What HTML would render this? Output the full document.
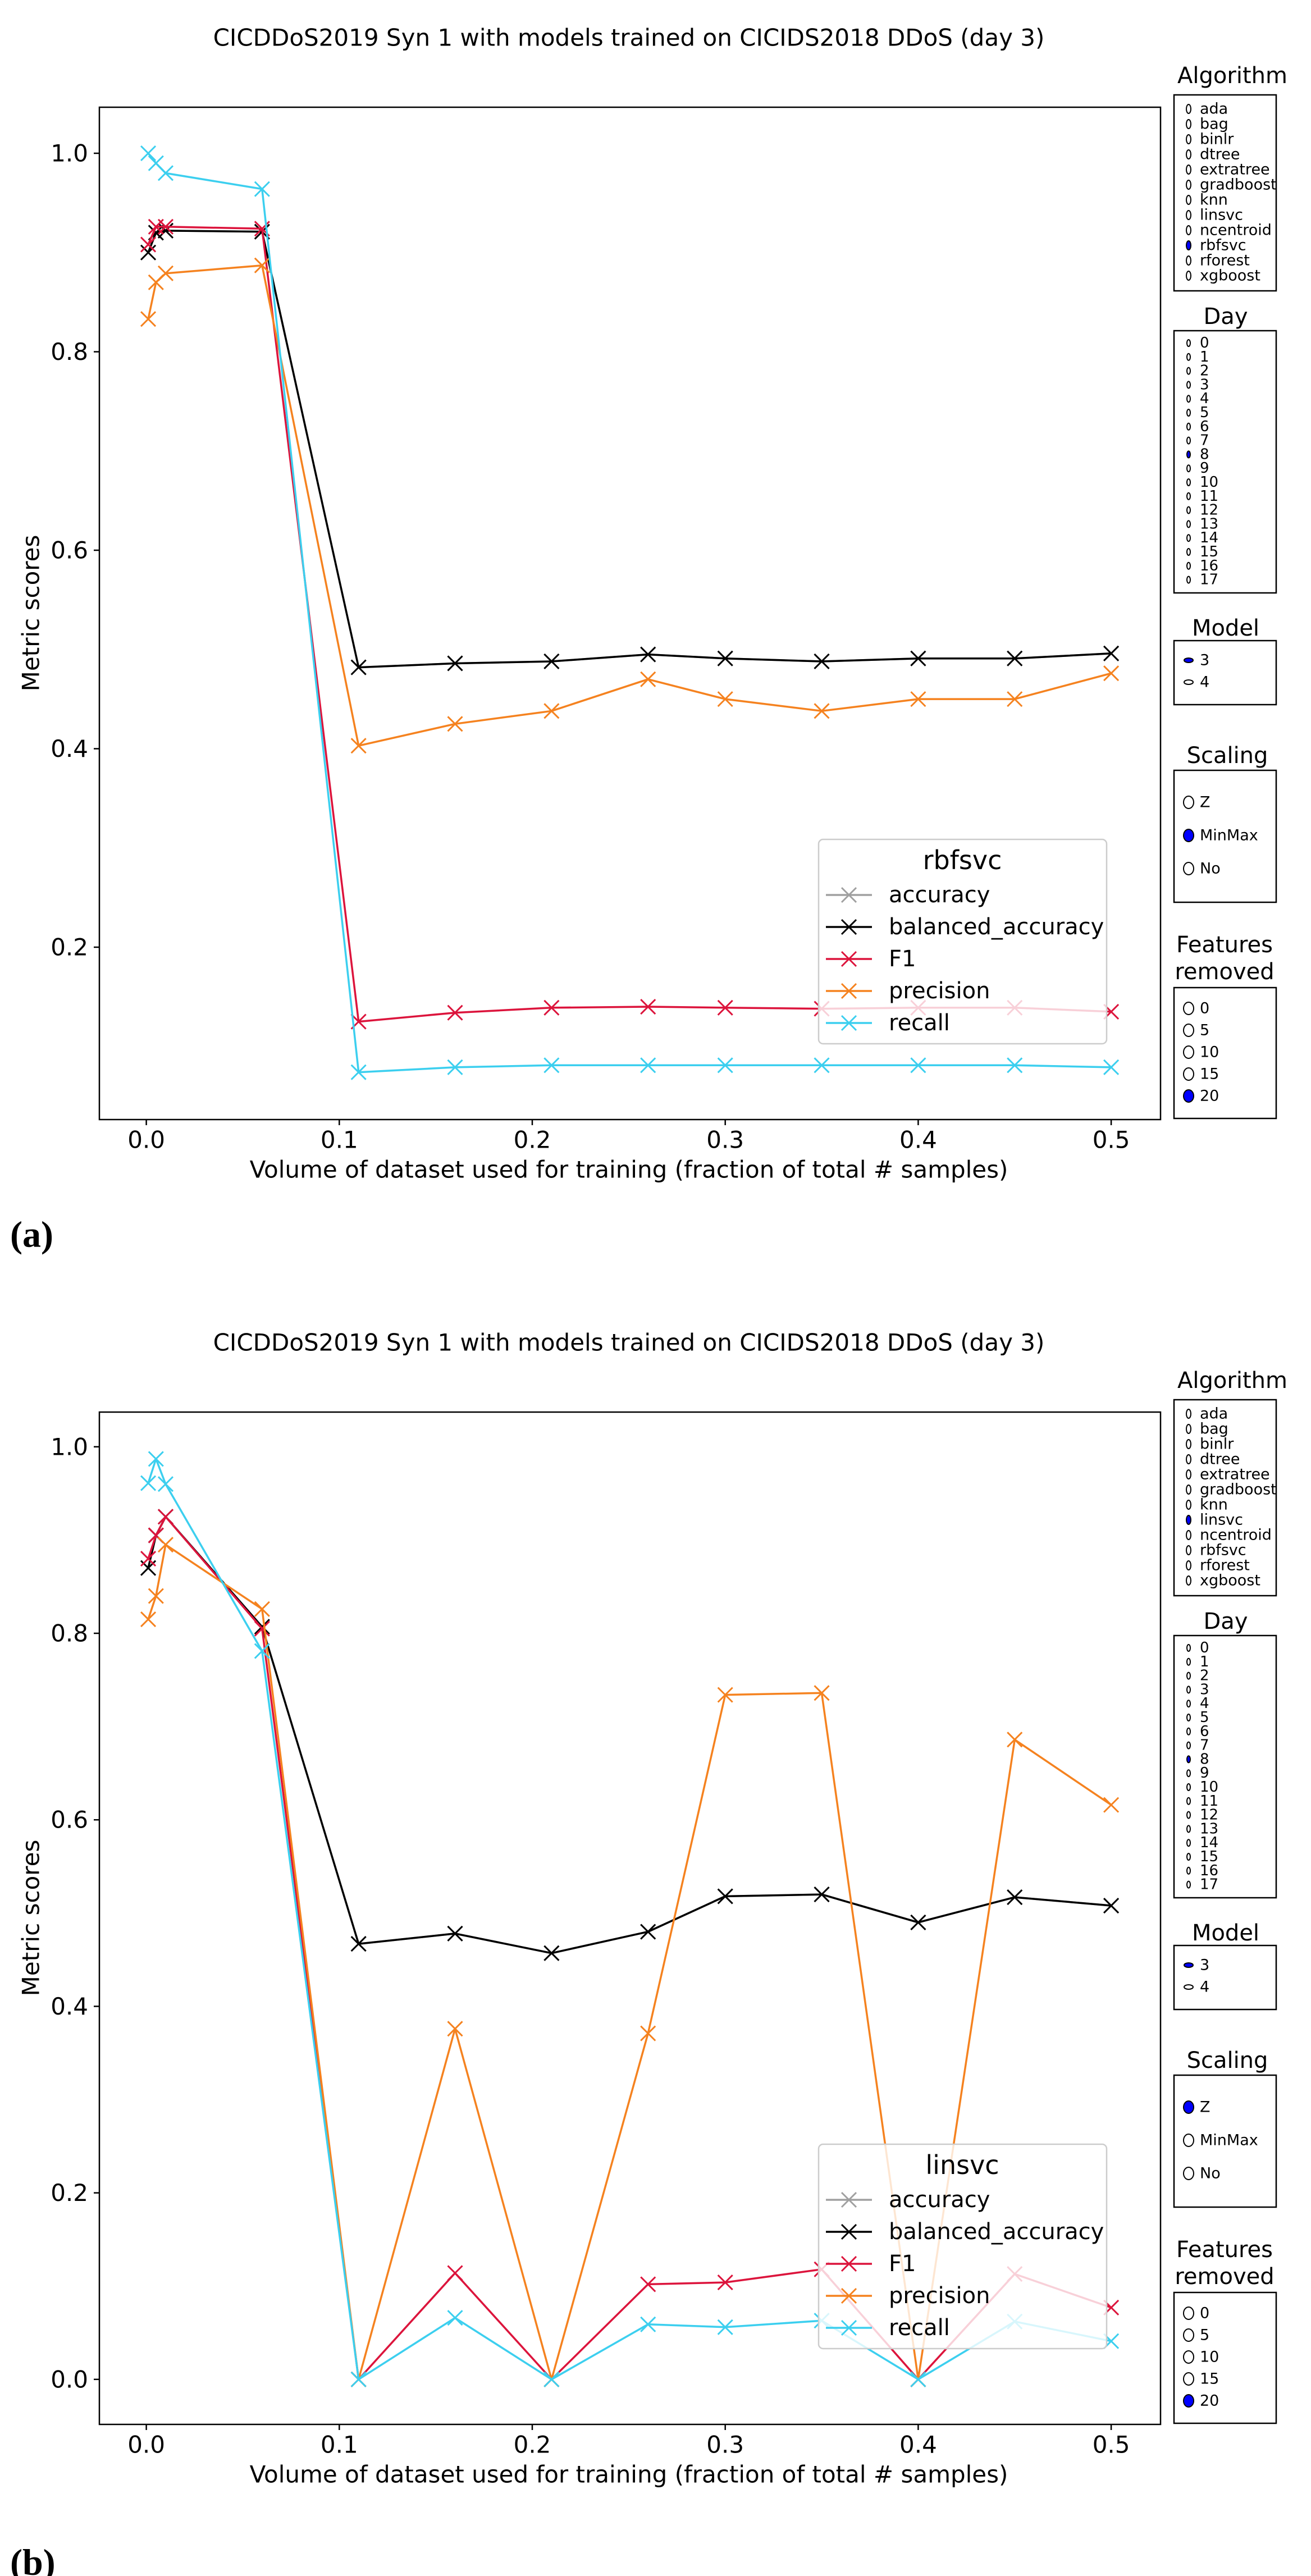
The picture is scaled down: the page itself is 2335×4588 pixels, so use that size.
<!DOCTYPE html>
<html><head><meta charset="utf-8"><style>
html,body{margin:0;padding:0;background:#fff}
svg{display:block;font-family:"DejaVu Sans","Liberation Sans",sans-serif}
</style></head><body>
<svg id="fig" width="2335" height="4588" viewBox="0 0 2335 4588" xmlns="http://www.w3.org/2000/svg"></svg>
<script>
const xVals = [0.001,0.005,0.01,0.06,0.11,0.16,0.21,0.26,0.30,0.35,0.40,0.45,0.50];
const seriesNames = ["accuracy","balanced_accuracy","F1","precision","recall"];
const seriesColors = ["#a0a0a0","#000000","#dc143c","#f5821f","#3ccfef"];
const xTicks = [0,0.1,0.2,0.3,0.4,0.5];
const xTickLabels = ["0.0","0.1","0.2","0.3","0.4","0.5"];
const yTicksA = [0.2,0.4,0.6,0.8,1.0];
const yTickLabelsA = ["0.2","0.4","0.6","0.8","1.0"];
const yTicksB = [0.0,0.2,0.4,0.6,0.8,1.0];
const yTickLabelsB = ["0.0","0.2","0.4","0.6","0.8","1.0"];
// chart (a) rbfsvc
const accA = [0.90,0.92,0.922,0.921,0.482,0.486,0.488,0.495,0.491,0.488,0.491,0.491,0.496];
const balA = [0.90,0.92,0.922,0.921,0.482,0.486,0.488,0.495,0.491,0.488,0.491,0.491,0.496];
const f1A = [0.908,0.926,0.926,0.924,0.125,0.134,0.139,0.140,0.139,0.138,0.139,0.139,0.135];
const precA = [0.833,0.870,0.879,0.887,0.403,0.425,0.438,0.470,0.450,0.438,0.450,0.450,0.476];
const recA = [1.0,0.99,0.98,0.964,0.074,0.079,0.081,0.081,0.081,0.081,0.081,0.081,0.079];
// chart (b) linsvc
const accB = [0.870,0.905,0.925,0.807,0.467,0.478,0.457,0.480,0.518,0.520,0.490,0.517,0.508];
const balB = [0.870,0.905,0.925,0.807,0.467,0.478,0.457,0.480,0.518,0.520,0.490,0.517,0.508];
const f1B = [0.880,0.905,0.925,0.805,0.0,0.114,0.0,0.102,0.104,0.118,0.0,0.113,0.077];
const precB = [0.815,0.840,0.895,0.826,0.0,0.376,0.0,0.371,0.734,0.736,0.0,0.686,0.616];
const recB = [0.961,0.987,0.960,0.781,0.0,0.066,0.0,0.059,0.056,0.063,0.0,0.062,0.041];
const algos = ["ada","bag","binlr","dtree","extratree","gradboost","knn","linsvc","ncentroid","rbfsvc","rforest","xgboost"];
const days = ["0","1","2","3","4","5","6","7","8","9","10","11","12","13","14","15","16","17"];
const models = ["3","4"];
const scalings = ["Z","MinMax","No"];
const feats = ["0","5","10","15","20"];

const NS = "http://www.w3.org/2000/svg";
const svg = document.getElementById("fig");
function mk(tag, attrs, parent, text){
  const e = document.createElementNS(NS, tag);
  for (const k in attrs) e.setAttribute(k, attrs[k]);
  if (text !== undefined) e.textContent = text;
  parent.appendChild(e);
  return e;
}
const L=177,R=2067,T=191,B=1994;
const xs = v => 260.6 + v*3437;

function drawChart(off, yTop, yPer, yTicks, yLabels, data, algoName, selAlgo, selScale, label, name){
  const g = mk("g",{transform:"translate(0,"+off+")"},svg);
  
  
  const ys = v => yTop + (1-v)*yPer;
  const t = mk("text",{x:1120,y:67,"text-anchor":"middle","dominant-baseline":"central","font-size":42},g,"CICDDoS2019 Syn 1 with models trained on CICIDS2018 DDoS (day 3)");
  
  
  const clip = "clip"+off;
  const cp = mk("clipPath",{id:clip},g); mk("rect",{x:L,y:T,width:R-L,height:B-T},cp);
  const sg = mk("g",{"clip-path":"url(#"+clip+")"},g);
  data.forEach((arr,si)=>{
    const col = seriesColors[si];
    const pts = arr.map((v,i)=>xs(xVals[i]).toFixed(1)+","+ys(v).toFixed(1)).join(" ");
    const pl = mk("polyline",{points:pts,fill:"none",stroke:col,"stroke-width":3.5,"stroke-linejoin":"round"},sg);
    
    
    arr.forEach((v,i)=>{
      const cx=xs(xVals[i]), cy=ys(v), s=13;
      const m = mk("path",{d:`M${cx-s},${cy-s}L${cx+s},${cy+s}M${cx-s},${cy+s}L${cx+s},${cy-s}`,stroke:col,"stroke-width":3,fill:"none"},sg);
      
      
    });
  });
  const fr = mk("rect",{x:L,y:T,width:R-L,height:B-T,fill:"none",stroke:"#000","stroke-width":2.5},g);
  
  
  xTicks.forEach((v,i)=>{
    mk("line",{x1:xs(v),x2:xs(v),y1:B,y2:B+10,stroke:"#000","stroke-width":2.5},g);
    const tl = mk("text",{x:xs(v),y:2030,"text-anchor":"middle","dominant-baseline":"central","font-size":42},g,xTickLabels[i]);
    
    
  });
  yTicks.forEach((v,i)=>{
    mk("line",{x1:L-10,x2:L,y1:ys(v),y2:ys(v),stroke:"#000","stroke-width":2.5},g);
    const tl = mk("text",{x:157,y:ys(v),"text-anchor":"end","dominant-baseline":"central","font-size":42},g,yLabels[i]);
    
    
  });
  const xl = mk("text",{x:1120,y:2083,"text-anchor":"middle","dominant-baseline":"central","font-size":42},g,"Volume of dataset used for training (fraction of total # samples)");
  
  
  const yl = mk("text",{x:55,y:1092,"text-anchor":"middle","dominant-baseline":"central","font-size":42,transform:"rotate(-90 55 1092)"},g,"Metric scores");
  
  
  const pl = mk("text",{x:18,y:label==="(a)"?2199:2240,"dominant-baseline":"central","font-size":66,"font-weight":"bold","font-family":"Liberation Serif, serif"},g,label);
  
  
  const lg = mk("g",{},g);
  
  
  mk("rect",{x:1458,y:1495,width:513,height:364,rx:8,fill:"rgba(255,255,255,0.8)",stroke:"#cccccc","stroke-width":2.5},lg);
  mk("text",{x:1714,y:1532,"text-anchor":"middle","dominant-baseline":"central","font-size":46},lg,algoName);
  const ly=[1594,1651,1708,1765,1822];
  seriesNames.forEach((n,i)=>{
    const e = mk("g",{},lg);
    
    
    mk("line",{x1:1471,x2:1553,y1:ly[i],y2:ly[i],stroke:seriesColors[i],"stroke-width":3.5},e);
    const s=13,cx=1512,cy=ly[i];
    mk("path",{d:`M${cx-s},${cy-s}L${cx+s},${cy+s}M${cx-s},${cy+s}L${cx+s},${cy-s}`,stroke:seriesColors[i],"stroke-width":3,fill:"none"},e);
    mk("text",{x:1583,y:ly[i],"dominant-baseline":"central","font-size":40},e,n);
  });
  function panel(title, titleYs, tx, box, items, y0, dy, sel, rw, rh, fs, pname){
    const pg = mk("g",{},g);
    
    
    title.forEach((tt,k)=>mk("text",{x:tx,y:titleYs[k],"text-anchor":"middle","dominant-baseline":"central","font-size":40},pg,tt));
    mk("rect",{x:2091,y:box[0],width:182,height:box[1]-box[0],fill:"#fff",stroke:"#000","stroke-width":2.5},pg);
    items.forEach((it,i)=>{
      const r = mk("g",{},pg);
      
      
      const y=y0+i*dy;
      mk("ellipse",{cx:2117,cy:y,rx:rw,ry:rh,fill:it===sel?"#0000ff":"#fff",stroke:"#000","stroke-width":2},r);
      mk("text",{x:2137,y:y,"dominant-baseline":"central","font-size":fs},r,it);
    });
  }
  panel(["Algorithm"],[135],2195,[169,518],algos,194,27,selAlgo,4,8,27,"algorithm-selector");
  panel(["Day"],[564],2183,[589,1056],days,611,24.8,"8",3,6,26,"day-selector");
  panel(["Model"],[1119],2183,[1141,1255],models,1176,39,"3",8,4,27,"model-selector");
  panel(["Scaling"],[1346],2186,[1372,1607],scalings,1429,59,selScale,9,11,27,"scaling-selector");
  panel(["Features","removed"],[1683,1731],2181,[1759,1992],feats,1796,39,"20",9,11,27,"features-selector");
}
drawChart(0,273,1767.5,yTicksA,yTickLabelsA,[accA,balA,f1A,precA,recA],"rbfsvc","rbfsvc","MinMax","(a)","chart-a");
drawChart(2324,252.8,1661,yTicksB,yTickLabelsB,[accB,balB,f1B,precB,recB],"linsvc","linsvc","Z","(b)","chart-b");
</script>
</body></html>
